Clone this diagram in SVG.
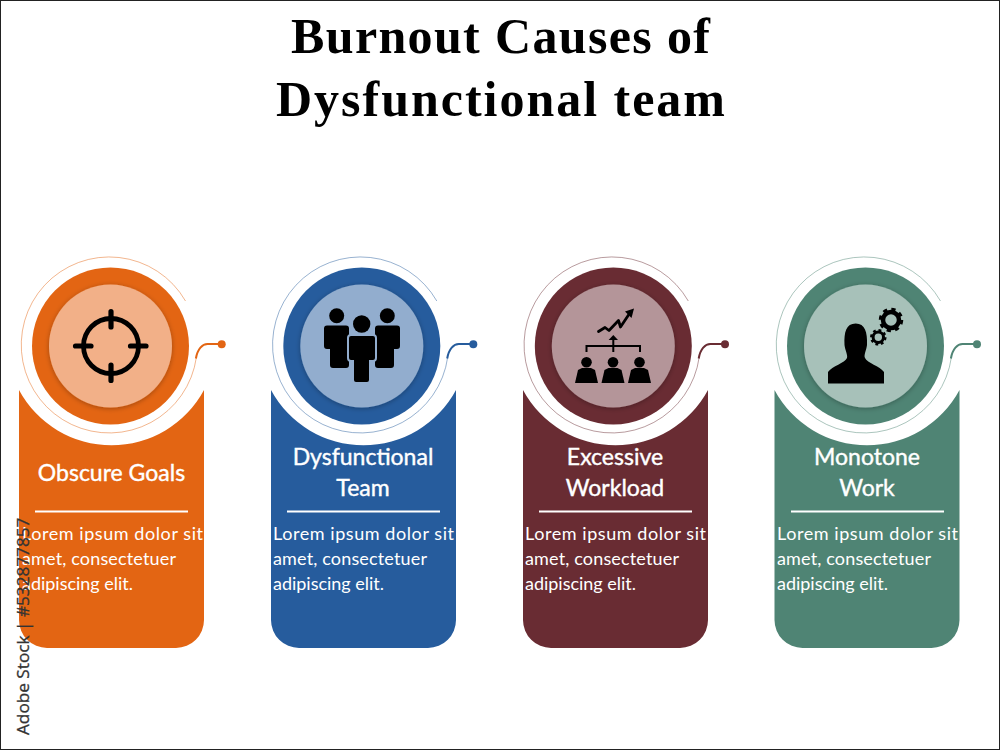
<svg xmlns="http://www.w3.org/2000/svg" width="1000" height="750" viewBox="0 0 1000 750">
<style>
.title{font-family:"Liberation Serif",serif;font-weight:700;font-size:50px;fill:#000;text-anchor:middle}
.head{font-family:Lato,"Noto Sans",sans-serif;font-size:23px;fill:#fff;stroke:#fff;stroke-width:.4;text-anchor:middle}
.body{font-family:Lato,"Noto Sans",sans-serif;font-size:18px;fill:#fff}
.rule{stroke:#fff;stroke-width:2}
.ring{fill:none;stroke-width:.8;opacity:.6}
.conn{fill:none;stroke-width:2}
.ic{fill:#000}
.ics{fill:none;stroke:#000;stroke-linecap:round;stroke-linejoin:round}
.stock{font-family:"Open Sans","Liberation Sans",sans-serif;font-size:17.200px;fill:#333;stroke:#333;stroke-width:.3}
</style>
<defs>
<filter id="sh" x="-20%" y="-20%" width="140%" height="140%"><feDropShadow dx="0" dy="1" stdDeviation="2.5" flood-color="#000" flood-opacity=".3"/></filter>
<path id="card" d="M0 0A105 105 0 0 0 185 0V230a28 28 0 0 1-28 28H28a28 28 0 0 1-28-28Z"/>
<path id="arc" d="M75-45A88 88 0 1 0 85.900 11.200"/>
<path id="tail" d="M85.400 12.500C87 3 92-2 97-2H111"/>
</defs>
<rect width="1000" height="750" fill="#fff"/>
<rect x=".5" y=".5" width="999" height="749" fill="none" stroke="#222"/>
<text class="title"><tspan x="500.500" y="53" textLength="419">Burnout Causes of</tspan><tspan x="500.500" y="115.500" textLength="449">Dysfunctional team</tspan></text>

<g id="node-obscure-goals">
<use href="#card" x="19" y="390" fill="#E36513"/>
<circle cx="110.500" cy="346" r="78.500" fill="#E36513"/>
<circle cx="110.500" cy="346" r="61.500" fill="#F2B088" filter="url(#sh)"/>
<g class="ics">
<circle cx="111" cy="346" r="27.500" stroke-width="4.800"/>
<path stroke-width="5.200" d="M75.500 346H91M130.500 346H146M111 311.500V327M111 365V380.500"/>
</g>
<text class="head" x="111.500" y="481">Obscure Goals</text>
<line class="rule" x1="35" y1="511.500" x2="188" y2="511.500"/>
<text class="body"><tspan x="22" y="539.500" textLength="181">Lorem ipsum dolor sit</tspan><tspan x="22" y="564.500" textLength="154">amet, consectetuer</tspan><tspan x="22" y="589.500" textLength="111">adipiscing elit.</tspan></text>
</g>

<g id="node-dysfunctional-team">
<use href="#card" x="271" y="390" fill="#265C9D"/>
<circle cx="361.800" cy="346" r="78.500" fill="#265C9D"/>
<circle cx="361.800" cy="346" r="61.500" fill="#92ADCE" filter="url(#sh)"/>
<g class="ic">
<circle cx="336.700" cy="315.700" r="7.500"/><circle cx="387.300" cy="315.700" r="7.500"/>
<path d="M327 325.500H346a3 3 0 0 1 3 3V365a3 3 0 0 1-3 3H333a3 3 0 0 1-3-3V349H327a3 3 0 0 1-3-3V328.500a3 3 0 0 1 3-3Z"/>
<path d="M378 325.500H397a3 3 0 0 1 3 3V346a3 3 0 0 1-3 3H394V365a3 3 0 0 1-3 3H378a3 3 0 0 1-3-3V328.500a3 3 0 0 1 3-3Z"/>
<circle cx="361.700" cy="324" r="8.700"/>
<path stroke="#92ADCE" stroke-width="2" d="M351 335H373a3 3 0 0 1 3 3V358a3 3 0 0 1-3 3H370V380a3 3 0 0 1-3 3H356a3 3 0 0 1-3-3V361H351a3 3 0 0 1-3-3V338a3 3 0 0 1 3-3Z"/>
</g>
<text class="head"><tspan x="363" y="465">Dysfunctional</tspan><tspan x="363" y="496">Team</tspan></text>
<line class="rule" x1="287" y1="511.500" x2="440" y2="511.500"/>
<text class="body"><tspan x="273" y="539.500" textLength="181">Lorem ipsum dolor sit</tspan><tspan x="273" y="564.500" textLength="154">amet, consectetuer</tspan><tspan x="273" y="589.500" textLength="111">adipiscing elit.</tspan></text>
</g>

<g id="node-excessive-workload">
<use href="#card" x="523" y="390" fill="#692C33"/>
<circle cx="613.300" cy="346" r="78.500" fill="#692C33"/>
<circle cx="613.300" cy="346" r="61.500" fill="#B49599" filter="url(#sh)"/>
<path class="ics" stroke-width="2.800" d="M598.500 331.500L605 327.500L609 330.500L618.500 320.500L620.500 327L628.500 315"/>
<path class="ic" d="M625 311.500L634 308.500L631.500 318Z"/>
<path class="ics" stroke-width="2" style="stroke-linecap:butt;stroke-linejoin:miter" d="M586.500 352V346H640V352M613.300 352V339"/>
<path class="ic" d="M613.300 335L618 340H608.600Z"/>
<g class="ic">
<circle cx="586.500" cy="362.300" r="5.300"/><path d="M582 368H591L595 370L598 383H575L578 370Z"/>
<circle cx="613" cy="362.300" r="5.300"/><path d="M608.500 368H617.500L621.500 370L624.500 383H601.500L604.500 370Z"/>
<circle cx="639.500" cy="362.300" r="5.300"/><path d="M635 368H644L648 370L651 383H628L631 370Z"/>
</g>
<text class="head"><tspan x="615" y="465">Excessive</tspan><tspan x="615" y="496">Workload</tspan></text>
<line class="rule" x1="539" y1="511.500" x2="692" y2="511.500"/>
<text class="body"><tspan x="525" y="539.500" textLength="181">Lorem ipsum dolor sit</tspan><tspan x="525" y="564.500" textLength="154">amet, consectetuer</tspan><tspan x="525" y="589.500" textLength="111">adipiscing elit.</tspan></text>
</g>

<g id="node-monotone-work">
<use href="#card" x="774.500" y="390" fill="#4F8474"/>
<circle cx="865.500" cy="346" r="78.500" fill="#4F8474"/>
<circle cx="865.500" cy="346" r="61.500" fill="#A7C1B9" filter="url(#sh)"/>
<path class="ic" d="M828 383.500V372C832 366 845 363 847 358C848 355 845 350 844.500 345C844 332 846 323.500 855.700 323.500C865 323.500 867.500 332 867 345C866.500 350 863.500 355 865 358C867 363 880 366 884 372V383.500Z"/>
<g class="ics" style="stroke-linecap:butt">
<circle cx="891" cy="320" r="8" stroke-width="4.500"/>
<circle cx="891" cy="320" r="10.500" stroke-width="3.500" stroke-dasharray="4.100 4.150"/>
<circle cx="878.300" cy="337.300" r="5.200" stroke-width="3"/>
<circle cx="878.300" cy="337.300" r="7" stroke-width="2.500" stroke-dasharray="2.750 2.750"/>
</g>
<text class="head"><tspan x="867" y="465">Monotone</tspan><tspan x="867" y="496">Work</tspan></text>
<line class="rule" x1="791" y1="511.500" x2="944" y2="511.500"/>
<text class="body"><tspan x="777" y="539.500" textLength="181">Lorem ipsum dolor sit</tspan><tspan x="777" y="564.500" textLength="154">amet, consectetuer</tspan><tspan x="777" y="589.500" textLength="111">adipiscing elit.</tspan></text>
</g>

<g id="connectors">
<g stroke="#E36513" fill="#E36513"><use href="#arc" x="110.500" y="346" class="ring"/><use href="#tail" x="110.500" y="346" class="conn"/><circle cx="221.700" cy="344.300" r="4" stroke="none"/></g>
<g stroke="#265C9D" fill="#265C9D"><use href="#arc" x="361.800" y="346" class="ring"/><use href="#tail" x="361.800" y="346" class="conn"/><circle cx="473.300" cy="344.300" r="4" stroke="none"/></g>
<g stroke="#692C33" fill="#692C33"><use href="#arc" x="613.300" y="346" class="ring"/><use href="#tail" x="613.300" y="346" class="conn"/><circle cx="725" cy="344.300" r="4" stroke="none"/></g>
<g stroke="#4F8474" fill="#4F8474"><use href="#arc" x="865.500" y="346" class="ring"/><use href="#tail" x="865.500" y="346" class="conn"/><circle cx="977" cy="344.300" r="4" stroke="none"/></g>
</g>
<text class="stock" transform="translate(29 735) rotate(-90)">Adobe Stock | #532877857</text>
</svg>
